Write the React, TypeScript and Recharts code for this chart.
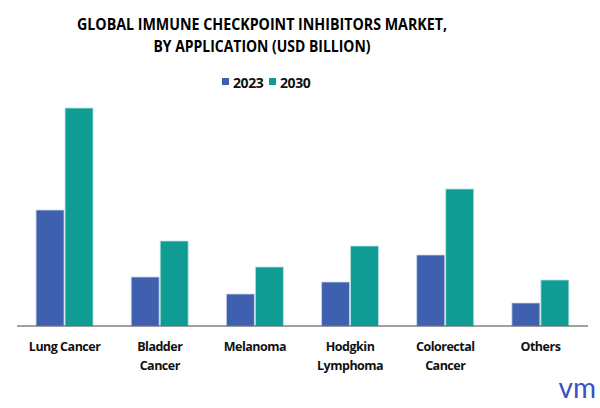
import React from 'react'
import { BarChart, Bar, XAxis, YAxis } from 'recharts'

const categories = ['Lung Cancer', 'Bladder Cancer', 'Melanoma', 'Hodgkin Lymphoma', 'Colorectal Cancer', 'Others']
const tickLines: Record<string, string[]> = {
  'Lung Cancer': ['Lung Cancer'],
  'Bladder Cancer': ['Bladder', 'Cancer'],
  'Melanoma': ['Melanoma'],
  'Hodgkin Lymphoma': ['Hodgkin', 'Lymphoma'],
  'Colorectal Cancer': ['Colorectal', 'Cancer'],
  'Others': ['Others'],
}
const values2023 = [11.6, 4.9, 3.2, 4.4, 7.1, 2.3]
const values2030 = [21.8, 8.5, 5.9, 8.0, 13.7, 4.6]

const data = categories.map((name, i) => ({ name, y2023: values2023[i], y2030: values2030[i] }))

const BLUE = '#3F60AE'
const TEAL = '#0E9C95'
const FONT = '"Open Sans", "Noto Sans", sans-serif'

const CategoryTick = (props: any) => {
  const { x, y, payload } = props
  const lines = tickLines[payload.value] || [payload.value]
  return (
    <g transform={`translate(${x},${y})`}>
      <text textAnchor="middle" fill="#111" fontSize={12.5} fontWeight={700} fontFamily={FONT} letterSpacing={-0.5}>
        {lines.map((l, i) => (
          <tspan key={i} x={0} dy={i === 0 ? 13 : 19}>{l}</tspan>
        ))}
      </text>
    </g>
  )
}

const App = () => {
  return (
    <div style={{ position: 'absolute', left: 0, top: 0, width: 600, height: 408, background: '#fff' }}>
      <svg width={600} height={100} style={{ position: 'absolute', left: 0, top: 0 }}>
        <text x={262} y={30} textAnchor="middle" fontFamily={FONT} fontWeight={700} fontSize={16.5} fill="#000"
          textLength={370} lengthAdjust="spacingAndGlyphs">GLOBAL IMMUNE CHECKPOINT INHIBITORS MARKET,</text>
        <text x={262} y={52} textAnchor="middle" fontFamily={FONT} fontWeight={700} fontSize={16.5} fill="#000"
          textLength={217} lengthAdjust="spacingAndGlyphs">BY APPLICATION (USD BILLION)</text>
        <rect x={222} y={78} width={7} height={7} fill={BLUE} />
        <text x={233} y={88} fontFamily={FONT} fontWeight={700} fontSize={14} fill="#111" letterSpacing={-0.4}>2023</text>
        <rect x={269} y={78} width={7} height={7} fill={TEAL} />
        <text x={280} y={88} fontFamily={FONT} fontWeight={700} fontSize={14} fill="#111" letterSpacing={-0.4}>2030</text>
      </svg>
      <div style={{ position: 'absolute', left: 0, top: 0 }}>
        <BarChart width={600} height={408} data={data} margin={{ top: 86, right: 12, bottom: 22, left: 17 }}
          barCategoryGap="20%" barGap={1}>
          <XAxis dataKey="name" height={60} tickLine={false} axisLine={{ stroke: '#444', strokeWidth: 1 }}
            interval={0} tick={<CategoryTick />} tickMargin={6} />
          <YAxis hide domain={[0, 24]} />
          <Bar dataKey="y2023" fill={BLUE} stroke="#cdd7ee" strokeWidth={0.8} isAnimationActive={false} />
          <Bar dataKey="y2030" fill={TEAL} stroke="#bfe6e2" strokeWidth={0.8} isAnimationActive={false} />
        </BarChart>
      </div>
      <svg width={80} height={40} style={{ position: 'absolute', left: 520, top: 368 }}>
        <text x={76} y={30} textAnchor="end" fontFamily="Lato, sans-serif" fontSize={28} fill="#3A4FC8">vm</text>
      </svg>
    </div>
  )
}

export default App
